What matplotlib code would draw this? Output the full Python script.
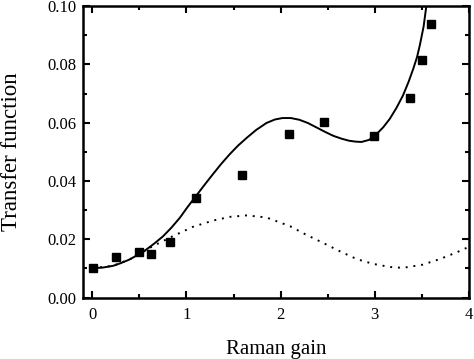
import matplotlib.pyplot as plt
from matplotlib.ticker import MultipleLocator

plt.rcParams['font.family'] = ['Liberation Serif', 'DejaVu Serif']

# measured points
gain_meas = [0.01, 0.25, 0.50, 0.62, 0.82, 1.10, 1.59, 2.09, 2.46, 2.99, 3.38, 3.50, 3.60]
tf_meas = [0.0100, 0.0140, 0.0158, 0.0150, 0.0190, 0.0342, 0.0422, 0.0562, 0.0603, 0.0554, 0.0685, 0.0816, 0.0938]

# solid curve
gain_fit = [0.0, 0.11, 0.22, 0.30, 0.39, 0.48, 0.57, 0.66, 0.75, 0.84, 0.93, 1.01, 1.10,
            1.19, 1.28, 1.37, 1.46, 1.55, 1.64, 1.74, 1.85, 1.94, 2.02, 2.11, 2.20, 2.29,
            2.38, 2.47, 2.56, 2.65, 2.73, 2.80, 2.86, 2.94, 3.02, 3.09, 3.16, 3.23, 3.30,
            3.36, 3.41, 3.45, 3.48, 3.52, 3.55]
tf_fit = [0.0101, 0.0103, 0.0109, 0.0118, 0.0130, 0.0146, 0.0164, 0.0186, 0.0210, 0.0240,
          0.0274, 0.0310, 0.0348, 0.0386, 0.0423, 0.0459, 0.0492, 0.0522, 0.0548, 0.0575,
          0.0599, 0.0611, 0.0616, 0.0616, 0.0610, 0.0599, 0.0584, 0.0569, 0.0555, 0.0545,
          0.0538, 0.0535, 0.0534, 0.0541, 0.0561, 0.0584, 0.0613, 0.0650, 0.0693, 0.0740,
          0.0785, 0.0825, 0.0866, 0.0930, 0.1003]

# dotted curve
gain_dot = [0.0, 0.22, 0.43, 0.64, 0.85, 1.07, 1.28, 1.46, 1.64, 1.85, 2.10, 2.27,
            2.45, 2.63, 2.81, 2.98, 3.16, 3.30, 3.51, 3.69, 3.87, 4.0]
tf_dot = [0.0101, 0.0109, 0.0136, 0.0176, 0.0210, 0.0243, 0.0264, 0.0277, 0.0282, 0.0275,
          0.0245, 0.0216, 0.0188, 0.0159, 0.0132, 0.0116, 0.0105, 0.0102, 0.0113, 0.0132,
          0.0155, 0.0174]

fig = plt.figure(figsize=(4.74, 3.59), dpi=100)
ax = fig.add_axes([0.175, 0.171, 0.814, 0.812])

ax.plot(gain_dot, tf_dot, color="black", linestyle=(0, (1, 3)), linewidth=1.4)
ax.plot(gain_fit, tf_fit, color="black", linewidth=1.4)
ax.plot(gain_meas, tf_meas, linestyle="none", marker="s", markersize=5.5, color="black")

ax.set_xlim(-0.1, 4.0)
ax.set_ylim(0.0, 0.10)
ax.xaxis.set_major_locator(MultipleLocator(1))
ax.xaxis.set_minor_locator(MultipleLocator(0.5))
ax.yaxis.set_major_locator(MultipleLocator(0.02))
ax.yaxis.set_minor_locator(MultipleLocator(0.01))
ax.yaxis.set_major_formatter(plt.FuncFormatter(lambda v, p: f"{v:.2f}"))
ax.tick_params(which="both", direction="in", top=True, right=True, width=1.5, labelsize=12)
ax.tick_params(which="major", length=5, pad=7)
ax.tick_params(which="minor", length=3)
ax.tick_params(axis="y", which="major", pad=5)
for s in ax.spines.values():
    s.set_linewidth(1.8)

ax.set_xlabel("Raman gain", fontsize=15, labelpad=12)
ax.set_ylabel("Transfer function", fontsize=16.5, labelpad=18)

fig.savefig("out.png", dpi=100)
